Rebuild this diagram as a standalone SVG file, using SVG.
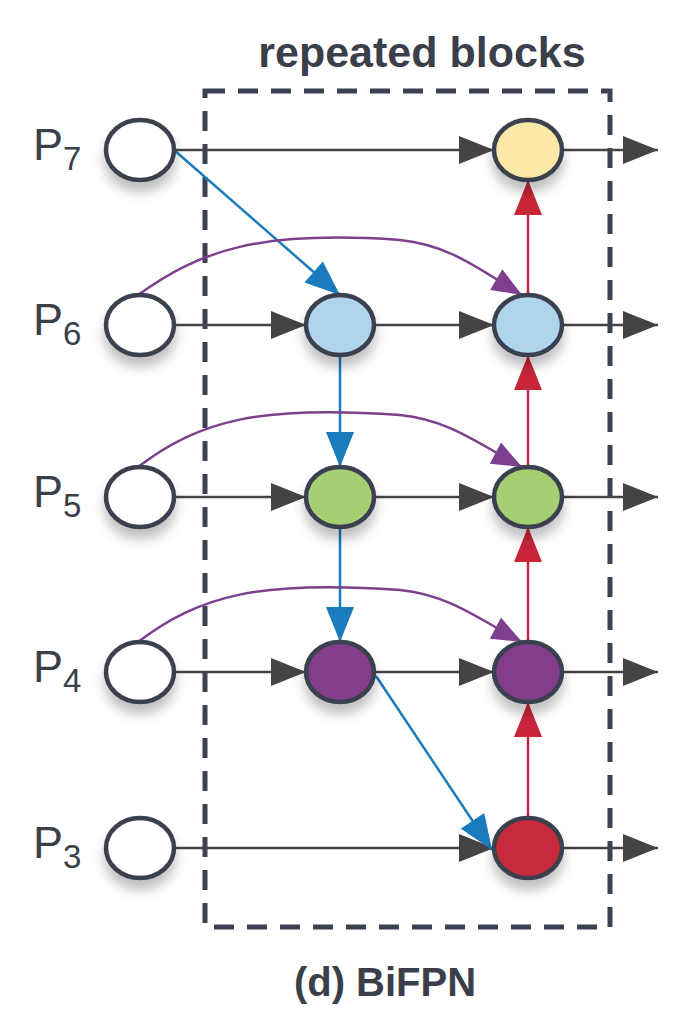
<svg xmlns="http://www.w3.org/2000/svg" width="700" height="1024" viewBox="0 0 700 1024">
<defs>
<marker id="ab" viewBox="0 0 10 8" refX="10" refY="4" orient="auto" markerWidth="36" markerHeight="28" markerUnits="userSpaceOnUse"><path d="M0,0L10,4L0,8z" fill="#1a7bbd"/></marker>
<marker id="ar" viewBox="0 0 10 8" refX="10" refY="4" orient="auto" markerWidth="36" markerHeight="28" markerUnits="userSpaceOnUse"><path d="M0,0L10,4L0,8z" fill="#c9253a"/></marker>
<marker id="ap" viewBox="0 0 10 8" refX="10" refY="4" orient="auto" markerWidth="32" markerHeight="24" markerUnits="userSpaceOnUse"><path d="M0,0L10,4L0,8z" fill="#7d3f8e"/></marker>
<marker id="ag" viewBox="0 0 10 8" refX="10" refY="4" orient="auto" markerWidth="38" markerHeight="28" markerUnits="userSpaceOnUse"><path d="M0,0L10,4L0,8z" fill="#444"/></marker>
<filter id="sh" x="-50%" y="-50%" width="200%" height="220%"><feGaussianBlur in="SourceAlpha" stdDeviation="6"/><feOffset dy="10"/><feComponentTransfer><feFuncA type="linear" slope="0.25"/></feComponentTransfer><feMerge><feMergeNode/><feMergeNode in="SourceGraphic"/></feMerge></filter>
</defs>
<style>
.n{stroke:#3a4150;stroke-width:4.5;filter:url(#sh)}
.t{font-family:"Liberation Sans",Arial,sans-serif;fill:#3a3f4a}
.k{stroke:#444;stroke-width:2.5;fill:none;marker-end:url(#ag)}
.b{stroke:#1a7bbd;stroke-width:2.5;fill:none;marker-end:url(#ab)}
.r{stroke:#c9253a;stroke-width:2.5;fill:none;marker-end:url(#ar)}
.p{stroke:#7d3f8e;stroke-width:2.5;fill:none;marker-end:url(#ap)}
</style>
<rect width="700" height="1024" fill="#fff"/>
<text class="t" x="422" y="67" font-size="43" font-weight="bold" text-anchor="middle">repeated blocks</text>
<text class="t" x="385" y="996" font-size="40" font-weight="bold" text-anchor="middle">(d) BiFPN</text>
<rect x="205" y="91" width="405" height="836" fill="none" stroke="#3a4150" stroke-width="5" stroke-dasharray="20 13"/>
<g id="labels">
<text class="t" x="33" y="160" font-size="45">P<tspan font-size="33" dy="10">7</tspan></text>
<text class="t" x="33" y="335" font-size="45">P<tspan font-size="33" dy="10">6</tspan></text>
<text class="t" x="33" y="507" font-size="45">P<tspan font-size="33" dy="10">5</tspan></text>
<text class="t" x="33" y="682" font-size="45">P<tspan font-size="33" dy="10">4</tspan></text>
<text class="t" x="33" y="858" font-size="45">P<tspan font-size="33" dy="10">3</tspan></text>
</g>
<g id="connectors">
<path class="k" d="M174,150H494"/>
<path class="k" d="M174,325H306"/><path class="k" d="M374,325H494"/>
<path class="k" d="M174,497H306"/><path class="k" d="M374,497H494"/>
<path class="k" d="M174,672H306"/><path class="k" d="M374,672H494"/>
<path class="k" d="M174,848H494"/>
<path class="k" d="M562,150H658"/><path class="k" d="M562,325H658"/><path class="k" d="M562,497H658"/><path class="k" d="M562,672H658"/><path class="k" d="M562,848H658"/>
<path class="b" d="M174,150L340,295"/>
<path class="b" d="M340,355V467"/>
<path class="b" d="M340,527V642"/>
<path class="b" d="M376,676L492,850"/>
<path class="r" d="M528,818V702"/>
<path class="r" d="M528,642V527"/>
<path class="r" d="M528,467V355"/>
<path class="r" d="M528,295V180"/>
<path class="p" d="M138,295C200,250 260,230 400,240C450,245 480,270 522,295"/>
<path class="p" d="M138,467C200,420 260,405 400,415C450,420 480,445 522,467"/>
<path class="p" d="M138,642C200,595 260,580 400,590C450,595 480,620 522,642"/>
</g>
<g id="n7a"><ellipse class="n" cx="140" cy="150" rx="34" ry="30" fill="#fff"/></g>
<g id="n6a"><ellipse class="n" cx="140" cy="325" rx="34" ry="30" fill="#fff"/></g>
<g id="n5a"><ellipse class="n" cx="140" cy="497" rx="34" ry="30" fill="#fff"/></g>
<g id="n4a"><ellipse class="n" cx="140" cy="672" rx="34" ry="30" fill="#fff"/></g>
<g id="n3a"><ellipse class="n" cx="140" cy="848" rx="34" ry="30" fill="#fff"/></g>
<g id="n6b"><ellipse class="n" cx="340" cy="325" rx="34" ry="30" fill="#b0d4ec"/></g>
<g id="n5b"><ellipse class="n" cx="340" cy="497" rx="34" ry="30" fill="#a5cf72"/></g>
<g id="n4b"><ellipse class="n" cx="340" cy="672" rx="34" ry="30" fill="#843e8a"/></g>
<g id="n7c"><ellipse class="n" cx="528" cy="150" rx="34" ry="30" fill="#fde9a7"/></g>
<g id="n6c"><ellipse class="n" cx="528" cy="325" rx="34" ry="30" fill="#b0d4ec"/></g>
<g id="n5c"><ellipse class="n" cx="528" cy="497" rx="34" ry="30" fill="#a5cf72"/></g>
<g id="n4c"><ellipse class="n" cx="528" cy="672" rx="34" ry="30" fill="#843e8a"/></g>
<g id="n3c"><ellipse class="n" cx="528" cy="848" rx="34" ry="30" fill="#c7293a"/></g>
</svg>
